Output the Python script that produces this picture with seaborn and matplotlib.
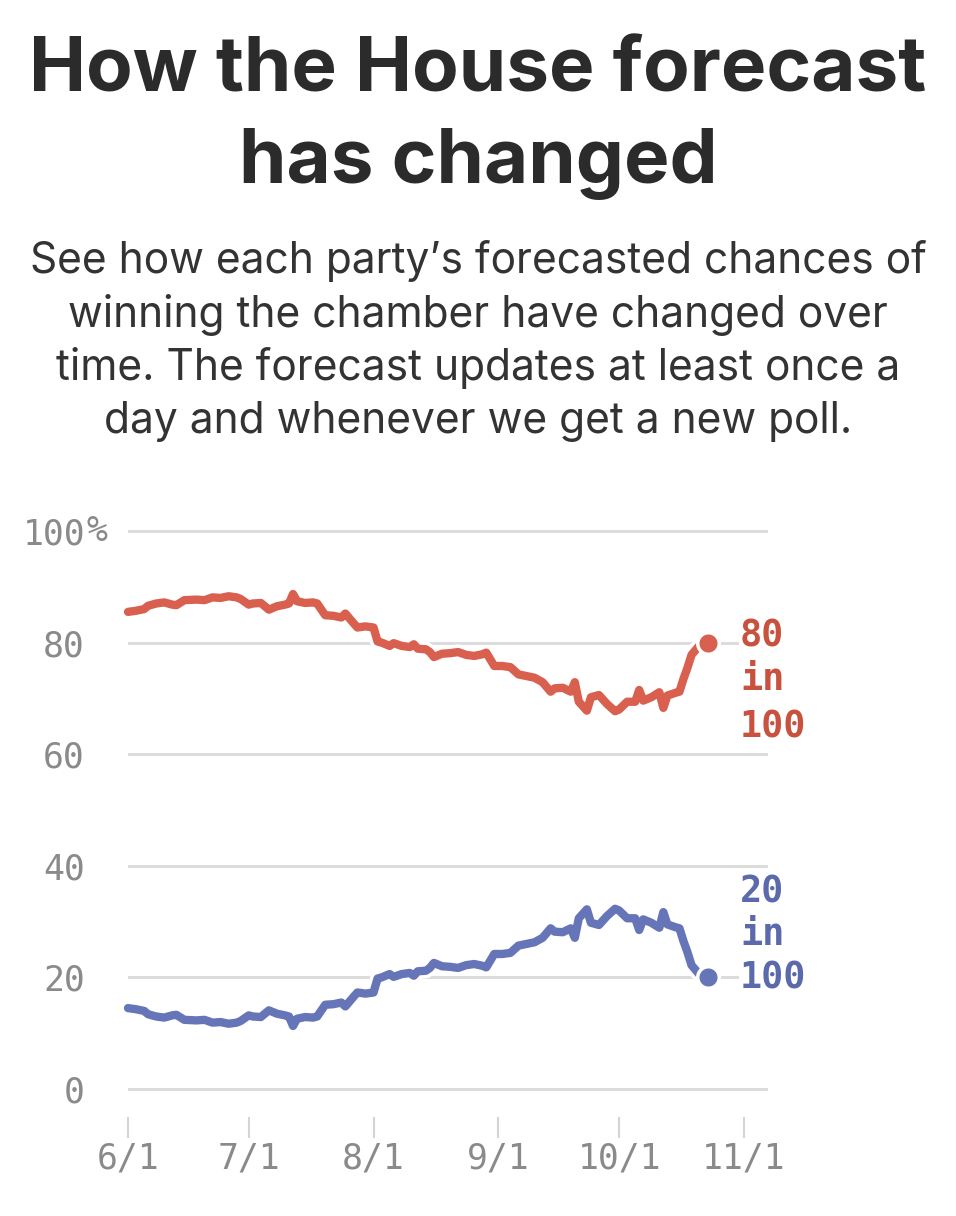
"""
How the House forecast has changed: chance of winning the chamber, by party, over time.
"""
import numpy as np, pandas as pd
import matplotlib; matplotlib.use("Agg")
import matplotlib.pyplot as plt
import matplotlib.patheffects as pe
import seaborn as sns

START = "2022-06-01"
DAYS = [0, 2, 4, 5, 7, 9, 11, 12, 14, 17, 19, 21, 23, 25, 27, 28, 30, 31, 33, 35,
        37, 39, 40, 41, 42, 44, 46, 47, 49, 51, 53, 54, 56, 57, 59, 61, 62, 63, 65, 66,
        68, 70, 71, 72, 74, 75, 76, 78, 80, 82, 84, 86, 88, 89, 90, 91, 93, 95, 97, 99,
        101, 103, 105, 106, 108, 110, 111, 112, 114, 115, 117, 119, 121, 122, 124, 126, 127, 128, 130, 132,
        133, 134, 136, 137, 138, 139, 140, 142, 144]
REP = [85.5, 85.7, 86.0, 86.6, 87.0, 87.2, 86.8, 86.7, 87.6, 87.7, 87.6, 88.1, 88.0, 88.3, 88.1, 87.8, 86.8, 87.0, 87.1, 85.9,
       86.5, 86.8, 87.0, 88.7, 87.4, 87.1, 87.2, 87.0, 84.9, 84.8, 84.5, 85.2, 83.5, 82.7, 82.9, 82.7, 80.2, 80.0, 79.4, 79.9,
       79.4, 79.2, 79.7, 78.9, 78.8, 78.3, 77.4, 78.0, 78.1, 78.3, 77.8, 77.6, 77.9, 78.2, 77.0, 75.8, 75.8, 75.6, 74.3, 74.0,
       73.7, 72.9, 71.2, 71.8, 71.9, 71.2, 72.9, 69.4, 67.8, 70.2, 70.6, 69.0, 67.7, 68.0, 69.4, 69.4, 71.5, 69.6, 70.2, 71.1,
       68.3, 70.5, 71.0, 71.2, 73.5, 75.5, 77.8, 79.5, 80.0]
DEM = [14.5, 14.3, 14.0, 13.4, 13.0, 12.8, 13.2, 13.3, 12.4, 12.3, 12.4, 11.9, 12.0, 11.7, 11.9, 12.2, 13.2, 13.0, 12.9, 14.1,
       13.5, 13.2, 13.0, 11.3, 12.6, 12.9, 12.8, 13.0, 15.1, 15.2, 15.5, 14.8, 16.5, 17.3, 17.1, 17.3, 19.8, 20.0, 20.6, 20.1,
       20.6, 20.8, 20.3, 21.1, 21.2, 21.7, 22.6, 22.0, 21.9, 21.7, 22.2, 22.4, 22.1, 21.8, 23.0, 24.2, 24.2, 24.4, 25.7, 26.0,
       26.3, 27.1, 28.8, 28.2, 28.1, 28.8, 27.1, 30.6, 32.2, 29.8, 29.4, 31.0, 32.3, 32.0, 30.6, 30.6, 28.5, 30.4, 29.8, 28.9,
       31.7, 29.5, 29.0, 28.8, 26.5, 24.5, 22.2, 20.5, 20.0]
TICKS = ["2022-06-01", "2022-07-01", "2022-08-01", "2022-09-01", "2022-10-01", "2022-11-01"]
TICK_LABELS = ["6/1", "7/1", "8/1", "9/1", "10/1", "11/1"]
Y_TICKS = [0, 20, 40, 60, 80, 100]
COLORS = {"rep": "#d9604f", "dem": "#6675b8"}
LABEL_COLORS = {"rep": "#c9523f", "dem": "#5b6aab"}
END_LABELS = {"rep": ["80", "in", "100"], "dem": ["20", "in", "100"]}

dates = pd.Timestamp(START) + pd.to_timedelta(DAYS, unit="D")
df = pd.concat([pd.DataFrame({"date": dates, "chance": REP, "party": "rep"}),
                pd.DataFrame({"date": dates, "chance": DEM, "party": "dem"})])

sns.set_style("white")
MONO = ["DejaVu Sans Mono"]
SANS = ["Inter", "DejaVu Sans"]
fig = plt.figure(figsize=(9.56, 12.16), dpi=100)
W, H = 956, 1216
PX = 5.58  # pixels per percentage point
# axes: 6/1 at x=128, right edge at x=768; y=102 at 519.8 px, y=-2 at 1100.2 px
ax = fig.add_axes([128 / W, 1 - 1100.2 / H, 640 / W, (1100.2 - 519.8) / H])

sns.lineplot(data=df, x="date", y="chance", hue="party", palette=COLORS, ax=ax,
             linewidth=6, legend=False, zorder=3)
for ln in ax.lines:
    ln.set_solid_capstyle("round"); ln.set_solid_joinstyle("round"); ln.set_clip_on(False)
    ln.set_path_effects([pe.Stroke(linewidth=11, foreground="white"), pe.Normal()])

for party, vals in (("rep", REP), ("dem", DEM)):
    ax.plot([dates[-1]], [vals[-1]], "o", ms=15.5, color=COLORS[party], mec="white", mew=2.5,
            zorder=5, clip_on=False)

# end labels, one text per line; baselines in pixel rows converted to data units
for party, base_px in (("rep", [647, 690, 738]), ("dem", [902, 945, 988])):
    for txt, y in zip(END_LABELS[party], base_px):
        ax.text((740 - 128) / 640, (1089 - y) / PX, txt, transform=ax.get_yaxis_transform(),
                ha="left", va="baseline", family=MONO, fontsize=26.5, fontweight="bold",
                color=LABEL_COLORS[party], zorder=6,
                bbox=dict(facecolor="white", edgecolor="none", pad=0.5))

ax.set_xlim(pd.Timestamp(START), pd.Timestamp("2022-11-07"))
ax.set_ylim(-2, 102)
ax.set_xticks(pd.to_datetime(TICKS)); ax.set_xticklabels(TICK_LABELS)
ax.set_yticks(Y_TICKS); ax.set_yticklabels([str(v) for v in Y_TICKS])
ax.set_xlabel(""); ax.set_ylabel("")
ax.grid(axis="y", color="#dcdcdc", linewidth=2.2)
ax.grid(axis="x", visible=False)
for s in ax.spines.values():
    s.set_visible(False)
ax.spines["bottom"].set_position(("outward", 12))
ax.tick_params(axis="x", direction="out", length=15, width=1.5, color="#d4d4d4", pad=3,
               labelsize=25, labelcolor="#8a8a8a", bottom=True)
ax.tick_params(axis="y", length=0, pad=31, labelsize=25, labelcolor="#8a8a8a")
for lab in ax.get_xticklabels() + ax.get_yticklabels():
    lab.set_family(MONO)
ax.text(-0.0656, 100, "%", transform=ax.get_yaxis_transform(), ha="left", va="center",
        family=MONO, fontsize=25, color="#8a8a8a")

fig.text(0.5, 1 - 91 / H, "How the House forecast", ha="center", va="baseline",
         family=SANS, fontsize=55, fontweight="bold", color="#2b2b2b")
fig.text(0.5, 1 - 183 / H, "has changed", ha="center", va="baseline",
         family=SANS, fontsize=55, fontweight="bold", color="#2b2b2b")
SUB = ["See how each party\u2019s forecasted chances of",
       "winning the chamber have changed over",
       "time. The forecast updates at least once a",
       "day and whenever we get a new poll."]
for i, line in enumerate(SUB):
    fig.text(0.5, 1 - (273 + 53.5 * i) / H, line, ha="center", va="baseline",
             family=SANS, fontsize=30.6, fontweight="normal", color="#333333")

fig.savefig("out.png", dpi=100)
